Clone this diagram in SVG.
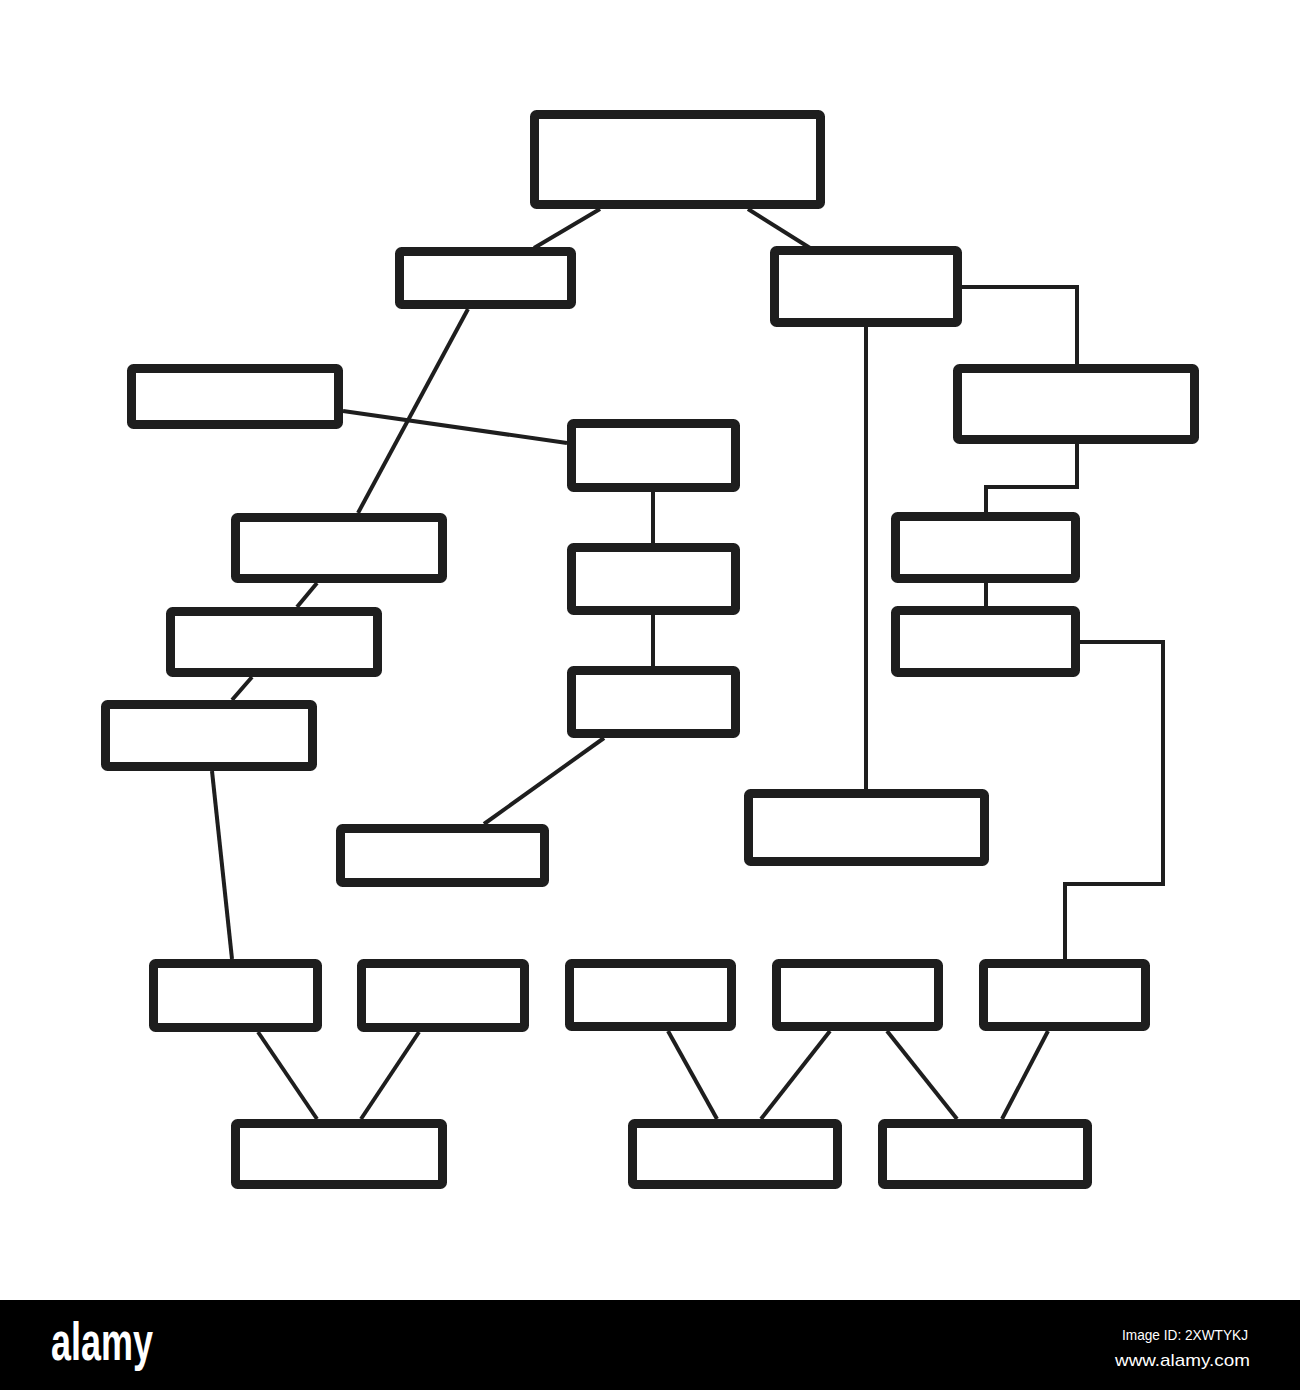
<svg xmlns="http://www.w3.org/2000/svg" width="1300" height="1390" viewBox="0 0 1300 1390">
<style>
.n{fill:#fff;stroke:#1e1e1e;stroke-width:9;stroke-linejoin:round}
.c{fill:none;stroke:#1e1e1e;stroke-width:4}
.wm{fill:#fff;font-family:"Liberation Sans",Arial,sans-serif}
</style>
<rect width="1300" height="1390" fill="#fff"/>
<g id="connectors">
<line class="c" x1="600" y1="209" x2="534" y2="248"/>
<line class="c" x1="748" y1="209" x2="810" y2="248"/>
<polyline class="c" points="962,287 1077,287 1077,364"/>
<line class="c" x1="866" y1="327" x2="866" y2="789"/>
<line class="c" x1="468" y1="309" x2="358" y2="513"/>
<line class="c" x1="343" y1="411" x2="567" y2="443"/>
<line class="c" x1="653" y1="492" x2="653" y2="543"/>
<line class="c" x1="653" y1="615" x2="653" y2="666"/>
<line class="c" x1="604" y1="738" x2="484" y2="824"/>
<line class="c" x1="317" y1="583" x2="297" y2="607"/>
<line class="c" x1="252" y1="677" x2="232" y2="700"/>
<line class="c" x1="212" y1="771" x2="232" y2="959"/>
<polyline class="c" points="1077,444 1077,487 986,487 986,512"/>
<line class="c" x1="986" y1="583" x2="986" y2="606"/>
<polyline class="c" points="1080,642 1163,642 1163,884 1065,884 1065,959"/>
<line class="c" x1="258" y1="1032" x2="317" y2="1119"/>
<line class="c" x1="419" y1="1032" x2="361" y2="1119"/>
<line class="c" x1="668" y1="1031" x2="717" y2="1119"/>
<line class="c" x1="830" y1="1031" x2="761" y2="1119"/>
<line class="c" x1="887" y1="1031" x2="957" y2="1119"/>
<line class="c" x1="1048" y1="1031" x2="1002" y2="1119"/>
</g>
<g id="n-top"><rect class="n" x="534.5" y="114.5" width="286" height="90" rx="2"/></g>
<g id="n-l2"><rect class="n" x="399.5" y="251.5" width="172" height="53" rx="2"/></g>
<g id="n-r2"><rect class="n" x="774.5" y="250.5" width="183" height="72" rx="2"/></g>
<g id="n-a"><rect class="n" x="131.5" y="368.5" width="207" height="56" rx="2"/></g>
<g id="n-r4"><rect class="n" x="957.5" y="368.5" width="237" height="71" rx="2"/></g>
<g id="n-c"><rect class="n" x="571.5" y="423.5" width="164" height="64" rx="2"/></g>
<g id="n-b"><rect class="n" x="235.5" y="517.5" width="207" height="61" rx="2"/></g>
<g id="n-r5"><rect class="n" x="895.5" y="516.5" width="180" height="62" rx="2"/></g>
<g id="n-f"><rect class="n" x="571.5" y="547.5" width="164" height="63" rx="2"/></g>
<g id="n-d"><rect class="n" x="170.5" y="611.5" width="207" height="61" rx="2"/></g>
<g id="n-r6"><rect class="n" x="895.5" y="610.5" width="180" height="62" rx="2"/></g>
<g id="n-g"><rect class="n" x="571.5" y="670.5" width="164" height="63" rx="2"/></g>
<g id="n-e"><rect class="n" x="105.5" y="704.5" width="207" height="62" rx="2"/></g>
<g id="n-br"><rect class="n" x="748.5" y="793.5" width="236" height="68" rx="2"/></g>
<g id="n-h"><rect class="n" x="340.5" y="828.5" width="204" height="54" rx="2"/></g>
<g id="n-p1"><rect class="n" x="153.5" y="963.5" width="164" height="64" rx="2"/></g>
<g id="n-p2"><rect class="n" x="361.5" y="963.5" width="163" height="64" rx="2"/></g>
<g id="n-p3"><rect class="n" x="569.5" y="963.5" width="162" height="63" rx="2"/></g>
<g id="n-p4"><rect class="n" x="776.5" y="963.5" width="162" height="63" rx="2"/></g>
<g id="n-p5"><rect class="n" x="983.5" y="963.5" width="162" height="63" rx="2"/></g>
<g id="n-q1"><rect class="n" x="235.5" y="1123.5" width="207" height="61" rx="2"/></g>
<g id="n-q2"><rect class="n" x="632.5" y="1123.5" width="205" height="61" rx="2"/></g>
<g id="n-q3"><rect class="n" x="882.5" y="1123.5" width="205" height="61" rx="2"/></g>
<g id="watermark">
<rect x="0" y="1300" width="1300" height="90" fill="#000"/>
<text class="wm" x="51" y="1360" font-size="54" font-weight="bold" textLength="102" lengthAdjust="spacingAndGlyphs">alamy</text>
<text class="wm" x="1122" y="1340" font-size="15" textLength="126" lengthAdjust="spacingAndGlyphs">Image ID: 2XWTYKJ</text>
<text class="wm" x="1115" y="1366" font-size="17" textLength="135" lengthAdjust="spacingAndGlyphs">www.alamy.com</text>
</g>
</svg>
